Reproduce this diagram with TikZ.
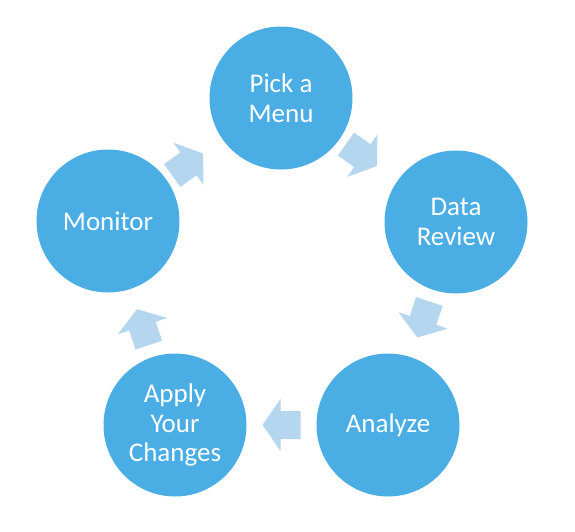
\documentclass[tikz,border=0pt]{standalone}
\usepackage{fontspec}
\setmainfont{Carlito}
\usetikzlibrary{calc}
\definecolor{circblue}{RGB}{74,173,227}
\definecolor{arrowblue}{RGB}{180,214,239}
\tikzset{
  stage/.style={circle, fill=circblue, minimum size=143pt, inner sep=0pt, text=white,
    font=\fontsize{27}{29.5}\selectfont, align=center},
  blockarrow/.style={fill=arrowblue}
}
\begin{document}
\begin{tikzpicture}[x=1pt,y=-1pt]
\useasboundingbox (0,0) rectangle (575,531);
\node[stage] (pick) at (281,98) {Pick a\\Menu};
\node[stage] (data) at (456,222) {Data\\Review};
\node[stage] (analyze) at (388,425) {Analyze};
\node[stage] (apply) at (175,425) {Apply\\Your\\Changes};
\node[stage] (monitor) at (108,221) {Monitor};
\foreach \a/\b/\f/\nm in {pick/data/0.46/m1, data/analyze/0.48/m2, analyze/apply/0.5/m3, apply/monitor/0.48/m4, monitor/pick/0.46/m5}{
  \coordinate (\nm) at ($(\a)!\f!(\b)$);
  \path let \p1=($(\b)-(\a)$), \n1={atan2(\y1,\x1)} in
    [blockarrow, shift={(\nm)}, rotate=\n1]
    (-19,-14) -- (1,-14) -- (1,-26) -- (19,0) -- (1,26) -- (1,14) -- (-19,14) -- cycle;
}
\end{tikzpicture}
\end{document}
